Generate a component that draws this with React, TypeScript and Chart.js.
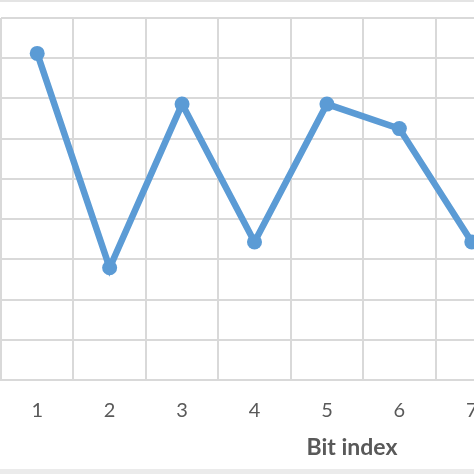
import React, { useEffect, useRef } from "react";
import { Chart, registerables } from "chart.js";

Chart.register(...registerables);

// Data
const bitIndex: string[] = ["1", "2", "3", "4", "5", "6", "7"];
const values: number[] = [8.12, 2.79, 6.86, 3.43, 6.86, 6.25, 3.43];
const yMin = 0;
const yMax = 9;
const yStep = 1;
const xTitle = "Bit index";

const BLUE = "#5B9BD5";
const GRID = "#D9D9D9";
const TEXT = "#595959";
const FONT = "Lato, 'Open Sans', 'Noto Sans', sans-serif";

export default function App() {
  const ref = useRef<HTMLCanvasElement | null>(null);

  useEffect(() => {
    if (!ref.current) return;
    const chart = new Chart(ref.current, {
      type: "line",
      data: {
        labels: bitIndex,
        datasets: [
          {
            data: values,
            borderColor: BLUE,
            backgroundColor: BLUE,
            borderWidth: 6.5,
            pointRadius: 7.5,
            pointHoverRadius: 7.5,
            pointBorderWidth: 0,
            pointBackgroundColor: BLUE,
            tension: 0,
            clip: false as any,
          },
        ],
      },
      options: {
        animation: false,
        responsive: false,
        maintainAspectRatio: false,
        events: [],
        layout: {
          autoPadding: false,
          padding: { left: 1, top: 18, right: 0, bottom: 0 },
        },
        plugins: {
          legend: { display: false },
          tooltip: { enabled: false },
          title: {
            display: true,
            position: "bottom",
            text: xTitle,
            color: TEXT,
            font: { family: FONT, size: 23, weight: "bold" },
            padding: { top: 0, bottom: 12.2 },
          },
        },
        scales: {
          x: {
            type: "category",
            offset: true,
            grid: {
              offset: true,
              color: GRID,
              lineWidth: 2,
              drawTicks: true,
              tickLength: 19,
              tickColor: "rgba(0,0,0,0)",
            },
            border: { display: true, color: GRID, width: 2 },
            ticks: {
              color: TEXT,
              font: { family: FONT, size: 20 },
              padding: 0,
              maxRotation: 0,
              autoSkip: false,
            },
            afterFit: (s: any) => {
              s.height = 54.2;
              s.paddingLeft = 0;
              s.paddingRight = 0;
            },
          },
          y: {
            min: yMin,
            max: yMax,
            ticks: { display: false, stepSize: yStep },
            grid: { color: GRID, lineWidth: 2, drawTicks: false },
            border: { display: false },
            afterFit: (s: any) => {
              s.width = 0;
            },
          },
          yRight: {
            type: "linear",
            position: "right",
            display: true,
            grid: { display: false },
            ticks: { display: false },
            border: { display: false },
            afterFit: (s: any) => {
              s.width = 195;
            },
          },
        },
      } as any,
    });
    return () => chart.destroy();
  }, []);

  return (
    <div
      style={{
        position: "absolute",
        left: 0,
        top: 0,
        width: 474,
        height: 474,
        overflow: "hidden",
        background: "#ffffff",
      }}
    >
      <canvas
        ref={ref}
        width={703}
        height={474}
        style={{ display: "block", width: 703, height: 474 }}
      />
      <div
        style={{
          position: "absolute",
          left: 0,
          top: 0,
          width: 474,
          height: 2,
          background: "#e4e4e4",
        }}
      />
      <div
        style={{
          position: "absolute",
          left: 0,
          top: 469,
          width: 474,
          height: 5,
          background: "#ebebeb",
        }}
      />
    </div>
  );
}
